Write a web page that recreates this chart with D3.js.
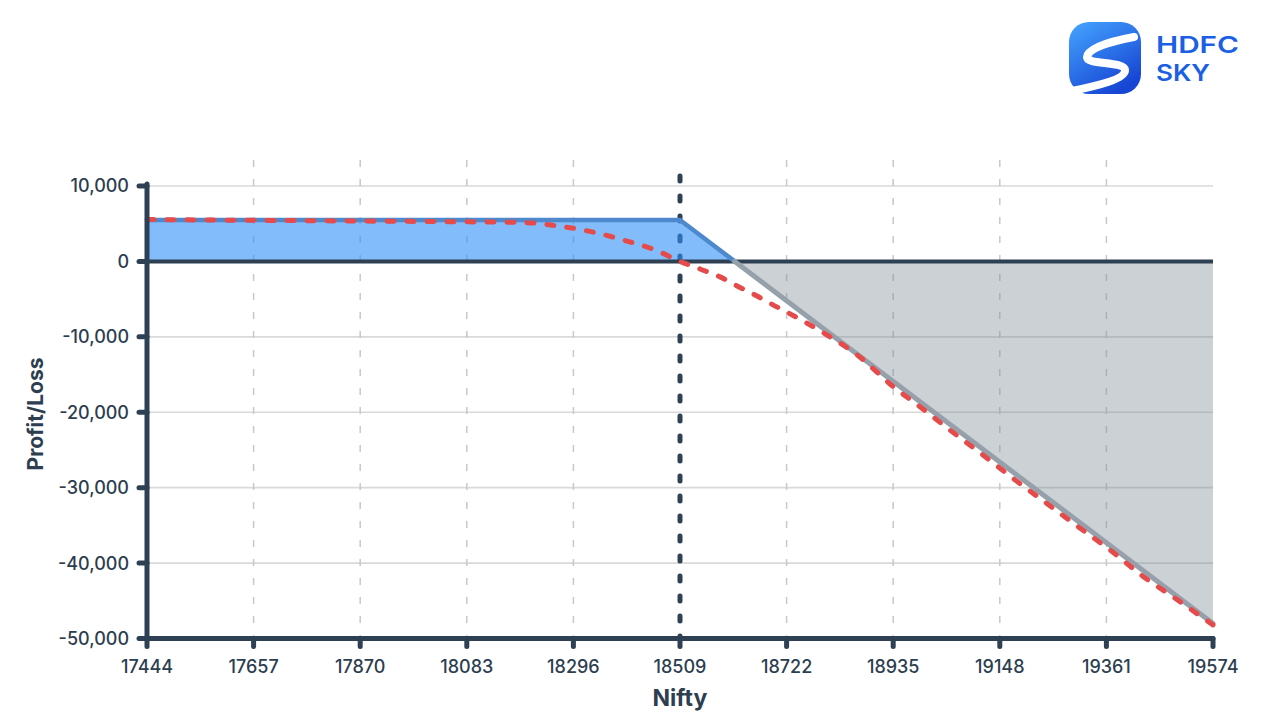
<!DOCTYPE html>
<html>
<head>
<meta charset="utf-8">
<script src="https://cdn.jsdelivr.net/npm/d3@7"></script>
<style>
  html, body { margin: 0; padding: 0; background: #ffffff; }
  svg { display: block; font-family: Inter, "Noto Sans", sans-serif; }
</style>
</head>
<body>
<svg id="chart" width="1280" height="720"></svg>
<script>
// ---------- data ----------
const xTicks = [17444, 17657, 17870, 18083, 18296, 18509, 18722, 18935, 19148, 19361, 19574];
const yTicks = [10000, 0, -10000, -20000, -30000, -40000, -50000];
const strike = 18509;

// payoff at expiry (piecewise linear)
const payoffX = [17444, 18509, 19574];
const payoffY = [5500, 5500, -48000];

// current (T+0) profit/loss curve
const curveX = [17444, 17657, 17870, 18083, 18200, 18260, 18324, 18403, 18460, 18509,
                18549, 18589, 18623, 18659, 18693, 18729, 18799, 18865, 18935, 18989,
                19053, 19115, 19179, 19242, 19305, 19369, 19435, 19499, 19574];
const curveY = [5550, 5450, 5350, 5250, 5150, 4750, 4050, 2700, 1500, 0,
                -1000, -2050, -3250, -4450, -5700, -6950, -9600, -12500, -16600, -19300,
                -22600, -25700, -29000, -32100, -35200, -38300, -41800, -44700, -48200];

// ---------- scales ----------
const svg = d3.select("#chart");
const x = d3.scaleLinear().domain([17444, 19574]).range([147, 1213]);
const y = d3.scaleLinear().domain([-50000, 10000]).range([638.5, 186]);

const dark = "#2e4053";
const fmt = d => d3.format(",")(d).replace("\u2212", "-");

// ---------- grid ----------
const grid = svg.append("g");
grid.selectAll(".hg").data(yTicks.filter(d => d !== 0 && d !== -50000)).enter().append("line")
  .attr("x1", x(17444)).attr("x2", x(19574))
  .attr("y1", d => y(d)).attr("y2", d => y(d))
  .attr("stroke", "#d9d9d9").attr("stroke-width", 1.6);
grid.selectAll(".vg").data(xTicks.filter(d => d !== 17444 && d !== strike && d !== 19574)).enter().append("line")
  .attr("x1", d => x(d)).attr("x2", d => x(d))
  .attr("y1", 160).attr("y2", y(-50000))
  .attr("stroke", "#c8c8c8").attr("stroke-width", 1.5)
  .attr("stroke-dasharray", "7,12");

// ---------- strike line ----------
svg.append("line")
  .attr("x1", x(strike)).attr("x2", x(strike))
  .attr("y1", 176).attr("y2", y(-50000))
  .attr("stroke", dark).attr("stroke-width", 5)
  .attr("stroke-linecap", "round")
  .attr("stroke-dasharray", "5,15");

// ---------- areas ----------
const slope = (payoffY[2] - payoffY[1]) / (payoffX[2] - payoffX[1]);
const breakeven = payoffX[1] - payoffY[1] / slope;

const profitPts = [[payoffX[0], 0], [payoffX[0], payoffY[0]], [payoffX[1], payoffY[1]], [breakeven, 0]];
const lossPts = [[breakeven, 0], [payoffX[2], payoffY[2]], [payoffX[2], 0]];
const poly = d3.line().x(d => x(d[0])).y(d => y(d[1]));

svg.append("path").attr("d", poly(profitPts) + "Z")
  .attr("fill", "#2f8ff8").attr("fill-opacity", 0.6);
svg.append("path").attr("d", poly(lossPts) + "Z")
  .attr("fill", "#7f8c99").attr("fill-opacity", 0.4);

// zero line
svg.append("line")
  .attr("x1", x(17444)).attr("x2", x(19574))
  .attr("y1", y(0)).attr("y2", y(0))
  .attr("stroke", dark).attr("stroke-width", 4);

// payoff lines
svg.append("path").attr("d", poly([[payoffX[0], payoffY[0]], [payoffX[1], payoffY[1]], [breakeven, 0]]))
  .attr("fill", "none").attr("stroke", "#4f89cd").attr("stroke-width", 4.5)
  .attr("stroke-linejoin", "round");
svg.append("path").attr("d", poly([[breakeven, 0], [payoffX[2], payoffY[2]]]))
  .attr("fill", "none").attr("stroke", "#96a0ab").attr("stroke-width", 5)
  .attr("stroke-linecap", "round");

// current curve
const curveData = curveX.map((d, i) => [d, curveY[i]]);
svg.append("path")
  .attr("d", d3.line().x(d => x(d[0])).y(d => y(d[1])).curve(d3.curveMonotoneX)(curveData))
  .attr("fill", "none").attr("stroke", "#e54b4b").attr("stroke-width", 5)
  .attr("stroke-linecap", "round").attr("stroke-dasharray", "7,13");

// ---------- axes ----------
const yAxis = svg.append("g");
yAxis.append("line")
  .attr("x1", x(17444)).attr("x2", x(17444))
  .attr("y1", y(10000) - 2).attr("y2", y(-50000))
  .attr("stroke", dark).attr("stroke-width", 5).attr("stroke-linecap", "round");
yAxis.selectAll(".yt").data(yTicks).enter().append("line")
  .attr("x1", x(17444) - 8).attr("x2", x(17444))
  .attr("y1", d => y(d)).attr("y2", d => y(d))
  .attr("stroke", dark).attr("stroke-width", 5).attr("stroke-linecap", "round");
yAxis.selectAll(".yl").data(yTicks).enter().append("text")
  .attr("x", 129).attr("y", d => y(d)).attr("dy", "0.36em")
  .attr("text-anchor", "end")
  .attr("font-size", 18).attr("font-weight", 500).attr("fill", "#2c3e50")
  .text(d => fmt(d));

const xAxis = svg.append("g");
xAxis.append("line")
  .attr("x1", x(17444)).attr("x2", x(19574))
  .attr("y1", y(-50000)).attr("y2", y(-50000))
  .attr("stroke", dark).attr("stroke-width", 5).attr("stroke-linecap", "round");
xAxis.selectAll(".xt").data(xTicks).enter().append("line")
  .attr("x1", d => x(d)).attr("x2", d => x(d))
  .attr("y1", y(-50000)).attr("y2", y(-50000) + 8)
  .attr("stroke", dark).attr("stroke-width", 5).attr("stroke-linecap", "round");
xAxis.selectAll(".xl").data(xTicks).enter().append("text")
  .attr("x", d => x(d)).attr("y", 673)
  .attr("text-anchor", "middle")
  .attr("font-size", 18).attr("font-weight", 500).attr("fill", "#2c3e50")
  .text(d => d);

svg.append("text").attr("x", x(strike)).attr("y", 706)
  .attr("text-anchor", "middle").attr("font-size", 23).attr("font-weight", 700)
  .attr("fill", "#2c3e50").text("Nifty");
svg.append("text").attr("transform", "translate(43,414) rotate(-90)")
  .attr("text-anchor", "middle").attr("font-size", 21).attr("font-weight", 700)
  .attr("fill", "#2c3e50").text("Profit/Loss");

// ---------- logo ----------
const defs = svg.append("defs");
const grad = defs.append("linearGradient").attr("id", "lg")
  .attr("x1", "0").attr("y1", "0").attr("x2", "0.6").attr("y2", "1");
grad.append("stop").attr("offset", "0").attr("stop-color", "#45a6ff");
grad.append("stop").attr("offset", "1").attr("stop-color", "#1746d4");
const logo = svg.append("g");
logo.append("rect").attr("x", 1069).attr("y", 22).attr("width", 72).attr("height", 72)
  .attr("rx", 20).attr("fill", "url(#lg)");
logo.append("path")
  .attr("d", "M1134,37 C1112,41 1088,48 1087,57 C1086,65 1124,61 1125,70 C1126,79 1096,86 1072,91")
  .attr("fill", "none").attr("stroke", "#ffffff").attr("stroke-width", 8)
  .attr("stroke-linecap", "round").attr("stroke-linejoin", "round");
logo.append("text").attr("x", 1156).attr("y", 52.5)
  .attr("font-size", 23).attr("font-weight", 600).attr("fill", "#1b5fe4")
  .attr("textLength", 83).attr("lengthAdjust", "spacingAndGlyphs").text("HDFC");
logo.append("text").attr("x", 1156).attr("y", 80.5)
  .attr("font-size", 23).attr("font-weight", 600).attr("fill", "#1b5fe4")
  .attr("textLength", 54).attr("lengthAdjust", "spacingAndGlyphs").text("SKY");
</script>
</body>
</html>
